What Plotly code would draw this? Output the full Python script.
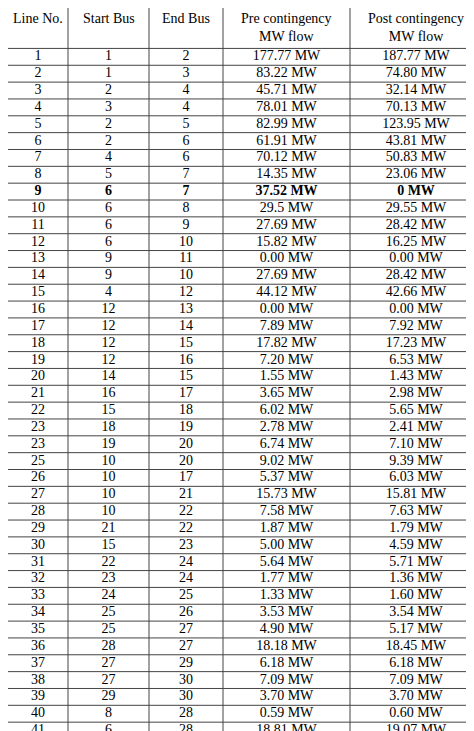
import plotly.graph_objects as go

line_no = list(range(1, 24)) + [23] + list(range(25, 42))
start_bus = [1, 1, 2, 3, 2, 2, 4, 5, 6, 6, 6, 6, 9, 9, 4, 12, 12, 12, 12, 14, 16, 15, 18, 19,
             10, 10, 10, 10, 21, 15, 22, 23, 24, 25, 25, 28, 27, 27, 29, 8, 6]
end_bus = [2, 3, 4, 4, 5, 6, 6, 7, 7, 8, 9, 10, 11, 10, 12, 13, 14, 15, 16, 15, 17, 18, 19, 20,
           20, 17, 21, 22, 22, 23, 24, 24, 25, 26, 27, 27, 29, 30, 30, 28, 28]
pre_mw = ["177.77", "83.22", "45.71", "78.01", "82.99", "61.91", "70.12", "14.35", "37.52", "29.5",
          "27.69", "15.82", "0.00", "27.69", "44.12", "0.00", "7.89", "17.82", "7.20", "1.55",
          "3.65", "6.02", "2.78", "6.74", "9.02", "5.37", "15.73", "7.58", "1.87", "5.00",
          "5.64", "1.77", "1.33", "3.53", "4.90", "18.18", "6.18", "7.09", "3.70", "0.59", "18.81"]
post_mw = ["187.77", "74.80", "32.14", "70.13", "123.95", "43.81", "50.83", "23.06", "0", "29.55",
           "28.42", "16.25", "0.00", "28.42", "42.66", "0.00", "7.92", "17.23", "6.53", "1.43",
           "2.98", "5.65", "2.41", "7.10", "9.39", "6.03", "15.81", "7.63", "1.79", "4.59",
           "5.71", "1.36", "1.60", "3.54", "5.17", "18.45", "6.18", "7.09", "3.70", "0.60", "19.07"]
bold_line = 9

headers = ["Line No.", "Start Bus", "End Bus", "Pre contingency<br>MW flow", "Post contingency<br>MW flow"]

col_edges = [0, 60, 141, 215, 342, 474]
col_centers = [(a + b) / 2 for a, b in zip(col_edges[:-1], col_edges[1:])]
H = 2.4  # header height in row units
n = len(line_no)
row_y = [H + i + 0.5 for i in range(n)]


def fmt(v, i):
    return f"<b>{v}</b>" if i == bold_line - 1 else str(v)


cols = [
    [fmt(v, i) for i, v in enumerate(line_no)],
    [fmt(v, i) for i, v in enumerate(start_bus)],
    [fmt(v, i) for i, v in enumerate(end_bus)],
    [fmt(v + " MW", i) for i, v in enumerate(pre_mw)],
    [fmt(v + " MW", i) for i, v in enumerate(post_mw)],
]

font = dict(family="Liberation Serif", size=14, color="black")
fig = go.Figure()
for cx, vals in zip(col_centers, cols):
    fig.add_trace(go.Scatter(x=[cx] * n, y=row_y, text=vals, mode="text",
                             textfont=font, textposition="middle center", hoverinfo="skip"))
for cx, h in zip(col_centers, headers):
    fig.add_annotation(x=cx, y=0.05, text=h, showarrow=False, yanchor="top",
                       font=font, align="center")

lc = dict(color="#444", width=1)
for x in col_edges[1:-1]:
    fig.add_shape(type="line", x0=x, x1=x, y0=0, y1=H + n, line=lc)
for i in range(n):
    fig.add_shape(type="line", x0=0, x1=474, y0=H + i, y1=H + i, line=lc)

fig.update_xaxes(range=[0, 474], visible=False)
fig.update_yaxes(range=[H + n, 0], visible=False)
fig.update_layout(width=474, height=731, margin=dict(l=0, r=0, t=0, b=0),
                  paper_bgcolor="white", plot_bgcolor="white", showlegend=False)
fig.write_html("out.html")
